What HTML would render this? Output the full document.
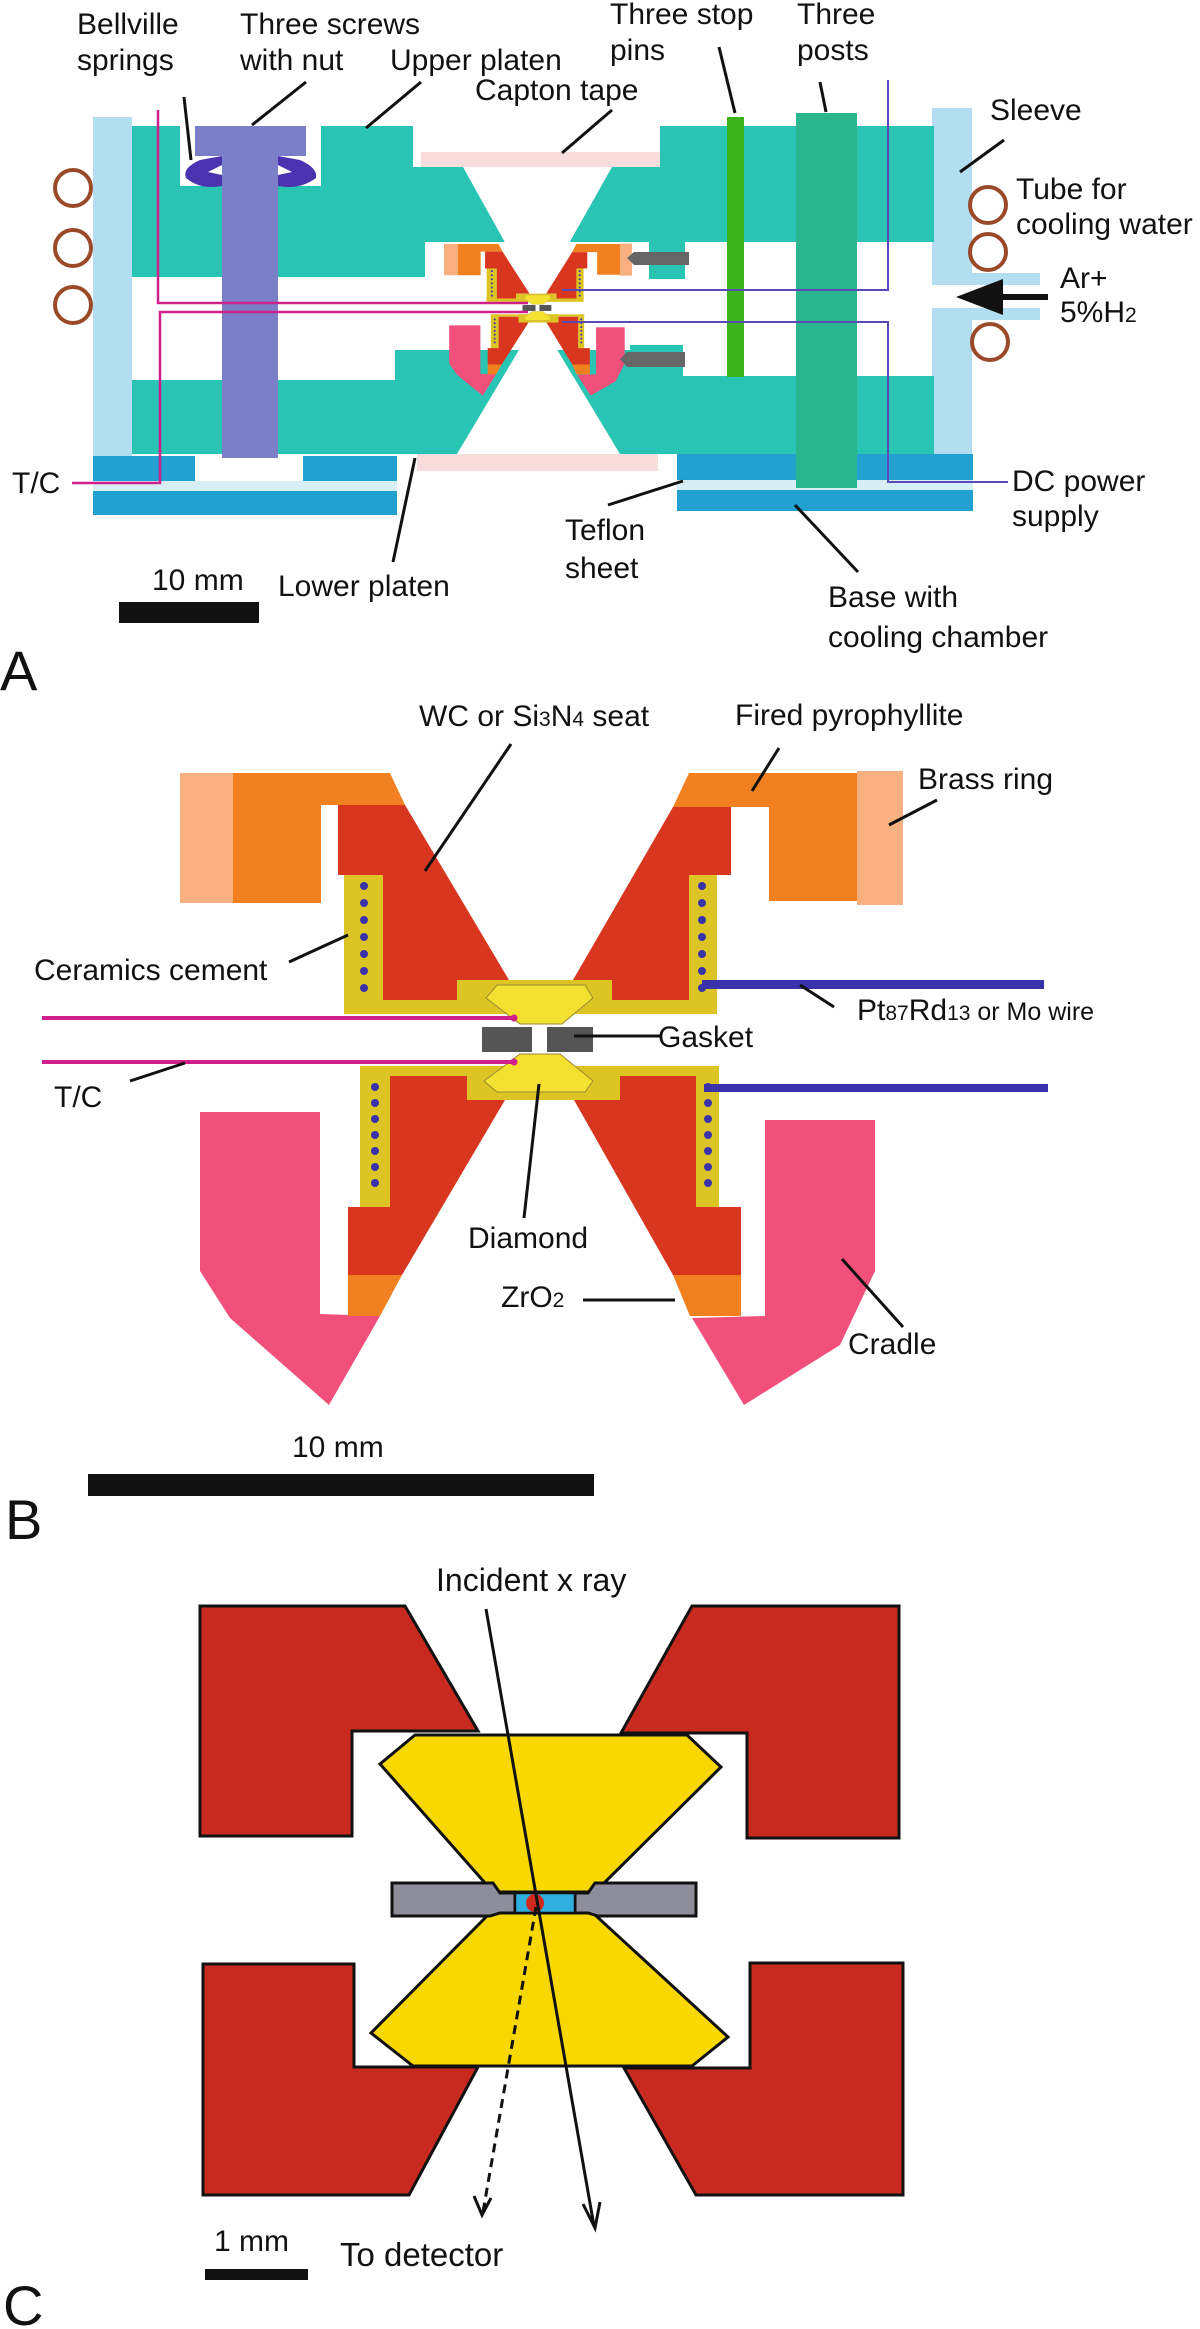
<!DOCTYPE html>
<html><head><meta charset="utf-8"><style>
html,body{margin:0;padding:0;background:#fff}
svg{display:block}
text{font-family:"Liberation Sans",Arial,sans-serif;fill:#111}
</style></head><body>
<svg width="1200" height="2329" viewBox="0 0 1200 2329" xmlns="http://www.w3.org/2000/svg">
<defs>
<g id="cell">
 <!-- upper -->
 <rect x="180" y="773" width="53" height="130" fill="#f8b080"/>
 <polygon points="233,773 390,773 405,805 321,805 321,903 233,903" fill="#f08020"/>
 <rect x="857" y="771" width="46" height="134" fill="#f8b080"/>
 <polygon points="689,773 857,773 857,901 769,901 769,807 673,807" fill="#f08020"/>
 <polygon points="344,875 383,875 383,1012 344,1012" fill="#dcc424"/>
 <polygon points="338,805 405,805 509,980 457,980 457,1010 383,1010 383,875 338,875" fill="#d8361e"/>
 <rect x="686" y="875" width="31" height="137" fill="#dcc424"/>
 <polygon points="673,807 731,807 731,875 689,875 689,1010 612,1010 612,980 573,980" fill="#d8361e"/>
 <rect x="344" y="1000" width="373" height="14" fill="#dcc424"/>
 <rect x="457" y="980" width="155" height="34" fill="#dcc424"/>
 <g fill="#3a32a8">
  <circle cx="364" cy="886" r="4"/><circle cx="364" cy="903" r="4"/><circle cx="364" cy="920" r="4"/><circle cx="364" cy="937" r="4"/><circle cx="364" cy="954" r="4"/><circle cx="364" cy="971" r="4"/><circle cx="364" cy="988" r="4"/>
  <circle cx="702" cy="886" r="4"/><circle cx="702" cy="903" r="4"/><circle cx="702" cy="920" r="4"/><circle cx="702" cy="937" r="4"/><circle cx="702" cy="954" r="4"/><circle cx="702" cy="971" r="4"/><circle cx="702" cy="988" r="4"/>
 </g>
 <polygon points="497,985 585,985 593,998 562,1024 520,1024 486,998" fill="#f3e030" stroke="#9a8a30" stroke-width="1"/>
 <!-- gasket -->
 <rect x="482" y="1027" width="50" height="25" fill="#555"/>
 <rect x="547" y="1027" width="46" height="25" fill="#555"/>
 <!-- lower -->
 <polygon points="200,1112 320,1112 320,1314 380,1316 329,1405 230,1318 200,1271" fill="#f0507a"/>
 <polygon points="765,1120 875,1120 875,1271 840,1345 744,1405 692,1318 765,1316" fill="#f0507a"/>
 <rect x="360" y="1066" width="30" height="141" fill="#dcc424"/>
 <rect x="696" y="1066" width="23" height="141" fill="#dcc424"/>
 <rect x="360" y="1066" width="359" height="10" fill="#dcc424"/>
 <rect x="467" y="1066" width="153" height="34" fill="#dcc424"/>
 <polygon points="390,1076 467,1076 467,1100 505,1100 402,1275 348,1275 348,1207 390,1207" fill="#d8361e"/>
 <polygon points="620,1076 696,1076 696,1207 741,1207 741,1275 673,1275 574,1100 620,1100" fill="#d8361e"/>
 <polygon points="348,1275 402,1275 380,1316 348,1316" fill="#f08020"/>
 <polygon points="673,1275 741,1275 741,1316 690,1316" fill="#f08020"/>
 <g fill="#3a32a8">
  <circle cx="375" cy="1087" r="4"/><circle cx="375" cy="1103" r="4"/><circle cx="375" cy="1119" r="4"/><circle cx="375" cy="1135" r="4"/><circle cx="375" cy="1151" r="4"/><circle cx="375" cy="1167" r="4"/><circle cx="375" cy="1183" r="4"/>
  <circle cx="708" cy="1087" r="4"/><circle cx="708" cy="1103" r="4"/><circle cx="708" cy="1119" r="4"/><circle cx="708" cy="1135" r="4"/><circle cx="708" cy="1151" r="4"/><circle cx="708" cy="1167" r="4"/><circle cx="708" cy="1183" r="4"/>
 </g>
 <polygon points="520,1054 560,1054 593,1081 585,1092 497,1092 484,1081" fill="#f3e030" stroke="#9a8a30" stroke-width="1"/>
</g>
</defs>

<!-- ================= PANEL A ================= -->
<!-- sleeves -->
<rect x="93" y="117" width="39" height="339" fill="#b3ddf0"/>
<rect x="932" y="108" width="40" height="177" fill="#b3ddf0"/>
<rect x="932" y="308" width="40" height="146" fill="#b3ddf0"/>
<rect x="972" y="273" width="68" height="12" fill="#b3ddf0"/>
<rect x="972" y="308" width="68" height="12" fill="#b3ddf0"/>
<!-- upper platen -->
<polygon points="132,126 413,126 413,167 660,167 660,126 934,126 934,242 685,242 685,279 649,279 649,242 425,242 425,277 132,277" fill="#2ac4b4"/>
<polygon points="463,167 612,167 537,300" fill="#fff"/>
<rect x="180" y="126" width="141" height="60" fill="#fff"/>
<rect x="421" y="152" width="239" height="15" fill="#f9dcdc"/>
<!-- lower platen -->
<polygon points="132,380 395,380 395,350 630,350 630,345 683,345 683,376 934,376 934,454 132,454" fill="#2ac4b4"/>
<polygon points="457,454 620,454 538,318" fill="#fff"/>
<rect x="417" y="454" width="241" height="17" fill="#f9dcdc"/>
<!-- base -->
<rect x="93" y="456" width="102" height="25" fill="#22a0d0"/>
<rect x="303" y="456" width="94" height="25" fill="#22a0d0"/>
<rect x="93" y="481" width="304" height="10" fill="#d8eef6"/>
<rect x="93" y="491" width="304" height="24" fill="#22a0d0"/>
<rect x="677" y="454" width="296" height="26" fill="#22a0d0"/>
<rect x="677" y="480" width="296" height="10" fill="#d8eef6"/>
<rect x="677" y="490" width="296" height="21" fill="#22a0d0"/>
<!-- posts and pins -->
<rect x="796" y="113" width="61" height="375" fill="#2bb58f"/>
<rect x="727" y="117" width="17" height="260" fill="#3cb21c"/>
<!-- screw -->
<rect x="195" y="126" width="111" height="30" fill="#7b7fc7"/>
<rect x="222" y="126" width="56" height="332" fill="#7b7fc7"/>
<path d="M222,156 L200,160 Q182,168 186,178 Q200,190 222,186 L222,175 L208,172 L222,165 Z" fill="#4b33b0"/>
<path d="M278,156 L300,160 Q318,168 316,178 Q300,190 278,186 L278,175 L292,172 L278,165 Z" fill="#4b33b0"/>
<!-- center cell -->
<use href="#cell" transform="translate(444,244) scale(0.26,0.24) translate(-180,-773)"/>
<polygon points="627,258 634,252 689,252 689,265 634,265" fill="#666"/>
<polygon points="620,359 627,352 685,352 685,367 627,367" fill="#666"/>
<!-- wires -->
<polyline points="158,110 158,303 528,303" fill="none" stroke="#d0208c" stroke-width="2.5"/>
<polyline points="72,483 160,483 160,312 528,312" fill="none" stroke="#d0208c" stroke-width="2.5"/>
<polyline points="562,290 888,290 888,80" fill="none" stroke="#5a4ab8" stroke-width="2"/>
<polyline points="562,322 888,322 888,482 1008,482" fill="none" stroke="#5a4ab8" stroke-width="2"/>
<!-- cooling tubes -->
<g fill="none" stroke="#9a4a28" stroke-width="4">
<circle cx="73" cy="188" r="18"/><circle cx="73" cy="248" r="18"/><circle cx="73" cy="305" r="18"/>
<circle cx="988" cy="205" r="18"/><circle cx="988" cy="252" r="18"/><circle cx="990" cy="342" r="18"/>
</g>
<!-- gas arrow -->
<polygon points="956,297 1003,279 1003,315" fill="#111"/>
<rect x="1000" y="294" width="48" height="6" fill="#111"/>
<!-- leaders -->
<g stroke="#111" stroke-width="3" fill="none">
<line x1="184" y1="97" x2="191" y2="160"/>
<line x1="306" y1="82" x2="252" y2="125"/>
<line x1="421" y1="82" x2="366" y2="128"/>
<line x1="612" y1="110" x2="562" y2="153"/>
<line x1="719" y1="47" x2="735" y2="113"/>
<line x1="820" y1="82" x2="826" y2="112"/>
<line x1="1004" y1="140" x2="960" y2="172"/>
<line x1="415" y1="458" x2="393" y2="562"/>
<line x1="608" y1="505" x2="683" y2="481"/>
<line x1="795" y1="505" x2="858" y2="572"/>
</g>
<!-- labels A -->
<g font-size="30">
<text x="77" y="34">Bellville</text><text x="77" y="70">springs</text>
<text x="240" y="34">Three screws</text><text x="240" y="70">with nut</text>
<text x="390" y="70">Upper platen</text>
<text x="475" y="100">Capton tape</text>
<text x="610" y="24">Three stop</text><text x="610" y="60">pins</text>
<text x="797" y="24">Three</text><text x="797" y="60">posts</text>
<text x="990" y="120">Sleeve</text>
<text x="1016" y="199">Tube for</text><text x="1016" y="234">cooling water</text>
<text x="1060" y="288">Ar+</text><text x="1060" y="322">5%H<tspan font-size="21">2</tspan></text>
<text x="12" y="493">T/C</text>
<text x="1012" y="491">DC power</text><text x="1012" y="526">supply</text>
<text x="152" y="590">10 mm</text>
<text x="278" y="596">Lower platen</text>
<text x="565" y="540">Teflon</text><text x="565" y="578">sheet</text>
<text x="828" y="607">Base with</text><text x="828" y="647">cooling chamber</text>
</g>
<rect x="119" y="602" width="140" height="21" fill="#111"/>
<text x="0" y="690" font-size="56">A</text>

<!-- ================= PANEL B ================= -->
<use href="#cell"/>
<line x1="42" y1="1018" x2="512" y2="1018" stroke="#d0208c" stroke-width="4"/>
<circle cx="514" cy="1018" r="3.5" fill="#d0208c"/>
<line x1="42" y1="1062" x2="512" y2="1062" stroke="#d0208c" stroke-width="4"/>
<circle cx="514" cy="1062" r="3.5" fill="#d0208c"/>
<rect x="702" y="980" width="342" height="9" fill="#3a32a8"/>
<rect x="704" y="1084" width="344" height="8" fill="#3a32a8"/>
<g stroke="#111" stroke-width="3" fill="none">
<line x1="511" y1="744" x2="425" y2="871"/>
<line x1="779" y1="748" x2="752" y2="791"/>
<line x1="937" y1="800" x2="889" y2="825"/>
<line x1="289" y1="962" x2="348" y2="935"/>
<line x1="800" y1="985" x2="834" y2="1007"/>
<line x1="574" y1="1036" x2="660" y2="1036"/>
<line x1="185" y1="1063" x2="130" y2="1081"/>
<line x1="539" y1="1084" x2="524" y2="1218"/>
<line x1="583" y1="1300" x2="675" y2="1300"/>
<line x1="842" y1="1259" x2="903" y2="1327"/>
</g>
<g font-size="30">
<text x="419" y="726">WC or Si<tspan font-size="21">3</tspan>N<tspan font-size="21">4</tspan> seat</text>
<text x="735" y="725">Fired pyrophyllite</text>
<text x="918" y="789">Brass ring</text>
<text x="34" y="980">Ceramics cement</text>
<text x="857" y="1020">Pt<tspan font-size="21">87</tspan>Rd<tspan font-size="21">13</tspan><tspan font-size="25"> or Mo wire</tspan></text>
<text x="658" y="1047">Gasket</text>
<text x="54" y="1107">T/C</text>
<text x="468" y="1248">Diamond</text>
<text x="501" y="1307">ZrO<tspan font-size="21">2</tspan></text>
<text x="848" y="1354">Cradle</text>
<text x="292" y="1457">10 mm</text>
</g>
<rect x="88" y="1474" width="506" height="22" fill="#111"/>
<text x="5" y="1539" font-size="56">B</text>

<!-- ================= PANEL C ================= -->
<g fill="#c82a20" stroke="#111" stroke-width="3" stroke-linejoin="miter">
<polygon points="200,1606 405,1606 478,1731 352,1731 352,1836 200,1836"/>
<polygon points="692,1606 899,1606 899,1838 747,1838 747,1733 621,1733"/>
<polygon points="203,1964 354,1964 354,2067 478,2067 409,2195 203,2195"/>
<polygon points="750,1963 903,1963 903,2195 696,2195 624,2068 750,2068"/>
</g>
<g fill="#f8d800" stroke="#111" stroke-width="3">
<polygon points="415,1735 687,1735 721,1767 595,1892 493,1892 380,1764"/>
<polygon points="490,1913 593,1913 728,2037 692,2066 413,2066 371,2033"/>
</g>
<polygon points="392,1883 493,1883 500,1893 515,1893 515,1913 500,1913 490,1916 392,1916" fill="#8e8e9a" stroke="#111" stroke-width="3"/>
<polygon points="696,1883 595,1883 588,1893 575,1893 575,1913 588,1913 598,1916 696,1916" fill="#8e8e9a" stroke="#111" stroke-width="3"/>
<rect x="515" y="1893" width="60" height="20" fill="#30b0e0" stroke="#111" stroke-width="2.5"/>
<circle cx="535" cy="1903" r="9" fill="#d02a20"/>
<!-- rays -->
<line x1="486" y1="1609" x2="594" y2="2226" stroke="#111" stroke-width="3"/>
<polyline points="583,2204 595,2228 600,2202" fill="none" stroke="#111" stroke-width="3"/>
<line x1="536" y1="1907" x2="483" y2="2212" stroke="#111" stroke-width="3" stroke-dasharray="9,6"/>
<polyline points="474,2196 482,2215 491,2198" fill="none" stroke="#111" stroke-width="3"/>
<text x="436" y="1591" font-size="32">Incident x ray</text>
<text x="214" y="2251" font-size="30">1 mm</text>
<rect x="205" y="2269" width="103" height="11" fill="#111"/>
<text x="340" y="2266" font-size="33">To detector</text>
<text x="3" y="2325" font-size="56">C</text>
</svg>
</body></html>
